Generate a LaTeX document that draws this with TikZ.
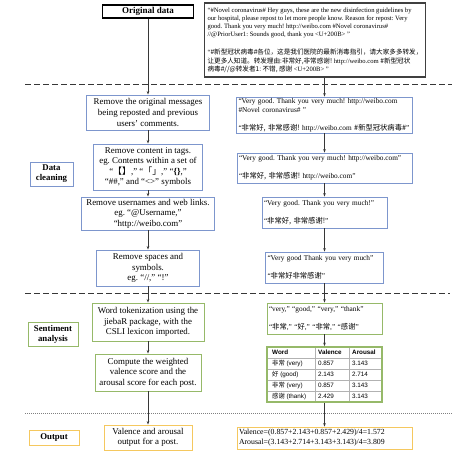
\documentclass[tikz,border=0pt]{standalone}
\usepackage{fontspec}
\setmainfont{Liberation Serif}
\newfontfamily\cjk{Noto Sans CJK SC}
\newfontfamily\tabsans{Liberation Sans}
\newcommand{\zh}[1]{{\cjk #1}}
\usetikzlibrary{arrows.meta}
\definecolor{cleanblue}{RGB}{125,150,205}
\definecolor{sentgreen}{RGB}{150,185,105}
\definecolor{outyellow}{RGB}{245,200,95}
\definecolor{flowgray}{RGB}{55,55,55}
\frenchspacing

\tikzset{
  leftbox/.style={draw, line width=0.9pt, align=center, inner ysep=1pt,
    font=\fontsize{8.9}{10.6}\selectfont},
  rightbox/.style={draw, line width=0.8pt, align=left, inner xsep=2pt, inner ysep=1pt,
    font=\fontsize{7.3}{9}\selectfont},
  stagebox/.style={draw, line width=0.9pt, align=center, inner ysep=1pt,
    font=\bfseries\fontsize{8.8}{10}\selectfont},
  cell/.style={anchor=west, inner sep=0pt, font=\tabsans\fontsize{6.3}{7}\selectfont},
  flow/.style={->, flowgray, line width=0.7pt},
  >={Stealth[length=3.5pt,width=2.6pt]}
}

\begin{document}
\begin{tikzpicture}[x=1pt, y=-1pt]
  \useasboundingbox (0,0) rectangle (474,452);
  % stage separators
  \draw[flowgray, line width=0.8pt, dash pattern=on 5.5pt off 3.5pt] (25,84) -- (452,84);
  \draw[flowgray, line width=0.8pt, dash pattern=on 5.5pt off 3.5pt] (25,293) -- (450,293);
  \draw[gray, line width=0.7pt, dash pattern=on 1pt off 1pt] (25,413) -- (452,413);

  % stage labels
  \node[stagebox, draw=cleanblue, minimum width=43pt, minimum height=24pt] (cleaning) at (51.5,174) {Data\\ cleaning};
  \node[stagebox, draw=sentgreen, minimum width=50pt, minimum height=24pt] (sentiment) at (53,334) {Sentiment\\ analysis};
  \node[stagebox, draw=outyellow, minimum width=50pt, minimum height=15pt] (output) at (54,437.5) {Output};

  % processing steps
  \node[draw, line width=1.4pt, minimum width=91pt, minimum height=13pt, inner sep=1pt,
    font=\bfseries\fontsize{9}{10}\selectfont] (orig) at (148,11.5) {Original data};
  \node[leftbox, draw=cleanblue, minimum width=123pt, minimum height=35pt] (rmrepost) at (148,112.5)
    {Remove the original messages\\ being reposted and previous\\ users' comments.};
  \node[leftbox, draw=cleanblue, minimum width=109pt, minimum height=46pt] (rmtags) at (148,167)
    {Remove content in tags.\\ eg. Contents within a set of\\ “\zh{【】},” “\zh{「」},” “\textbf{\{\}},”\\ “\#\#,” and “<>” symbols};
  \node[leftbox, draw=cleanblue, minimum width=133pt, minimum height=33pt] (rmlinks) at (148,213.5)
    {Remove usernames and web links.\\ eg. “@Username,”\\ “http://weibo.com”};
  \node[leftbox, draw=cleanblue, minimum width=103pt, minimum height=36pt] (rmspaces) at (148,268)
    {Remove spaces and\\ symbols.\\ eg. “//,” “!”};
  \node[leftbox, draw=sentgreen, minimum width=112pt, minimum height=38pt] (tokenize) at (148,322)
    {Word tokenization using the\\ jiebaR package, with the\\ CSLI lexicon imported.};
  \node[leftbox, draw=sentgreen, minimum width=106pt, minimum height=37pt] (weighted) at (148,372.5)
    {Compute the weighted\\ valence score and the\\ arousal score for each post.};
  \node[leftbox, draw=outyellow, minimum width=88pt, minimum height=25pt] (postout) at (148,437.5)
    {Valence and arousal\\ output for a post.};

  % example post
  \node[draw=black!75, line width=1.2pt, minimum width=214pt, minimum height=74pt, align=left,
    inner xsep=3pt, font=\fontsize{6.6}{8.3}\selectfont] (origtext) at (315,40)
    {“\#Novel coronavirus\# Hey guys, these are the new disinfection guidelines by\\
     our hospital, please repost to let more people know. Reason for repost: Very\\
     good. Thank you very much! http://weibo.com \#Novel coronavirus\#\\
     //@PriorUser1: Sounds good, thank you <U+200B> ”\\[9.5pt]
     “\zh{\#新型冠状病毒\#各位，这是我们医院的最新消毒指引，请大家多多转发，}\\
     \zh{让更多人知道。转发理由:非常好,非常感谢!} http://weibo.com \zh{\#新型冠状}\\
     \zh{病毒\#//@转发者1: 不错, 感谢} <U+200B> ”};
  \node[rightbox, draw=cleanblue, text width=172pt, minimum height=36pt] (noprior) at (324.5,115)
    {“Very good. Thank you very much! http://weibo.com\\ \#Novel coronavirus\# ”\\[9pt]
     “\zh{非常好, 非常感谢!} http://weibo.com \zh{\#新型冠状病毒\#}”};
  \node[rightbox, draw=cleanblue, text width=171pt, minimum height=30pt] (notags) at (324.5,168)
    {“Very good. Thank you very much! http://weibo.com”\\[9pt]
     “\zh{非常好, 非常感谢!} http://weibo.com”};
  \node[rightbox, draw=cleanblue, text width=121pt, minimum height=31pt] (nolinks) at (324.5,212.5)
    {“Very good. Thank you very much!”\\[9pt] “\zh{非常好, 非常感谢!}”};
  \node[rightbox, draw=cleanblue, text width=114pt, minimum height=31pt] (nospaces) at (324.5,267.5)
    {“Very good Thank you very much”\\[9pt] “\zh{非常好非常感谢}”};
  \node[rightbox, draw=sentgreen, text width=111pt, minimum height=31pt] (tokens) at (324.5,318.5)
    {“very,” “good,” “very,” “thank”\\[9pt] “\zh{非常},” “\zh{好},” “\zh{非常},” “\zh{感谢}”};

  % lexicon table
  \foreach \ry in {358,369,380,391}
    \draw[gray!60, line width=0.4pt] (267,\ry) -- (382,\ry);
  \foreach \cx in {315,349}
    \draw[gray!60, line width=0.4pt] (\cx,347) -- (\cx,402);
  \node[draw=sentgreen, line width=1.8pt, minimum width=115pt, minimum height=55pt, inner sep=0pt] (lexicon) at (324.5,374.5) {};
  \node[cell, font=\tabsans\bfseries\fontsize{6.3}{7}\selectfont] (hword) at (272,352.5) {Word};
  \node[cell, font=\tabsans\bfseries\fontsize{6.3}{7}\selectfont] (hval) at (318,352.5) {Valence};
  \node[cell, font=\tabsans\bfseries\fontsize{6.3}{7}\selectfont] (haro) at (352,352.5) {Arousal};
  \foreach \w/\v/\a [count=\i] in {\zh{非常} (very)/0.857/3.143, \zh{好} (good)/2.143/2.714,
      \zh{非常} (very)/0.857/3.143, \zh{感谢} (thank)/2.429/3.143} {
    \node[cell] (word\i) at (272,352.5+11*\i) {\w};
    \node[cell] (val\i) at (318,352.5+11*\i) {\v};
    \node[cell] (aro\i) at (352,352.5+11*\i) {\a};
  }

  \node[rightbox, draw=outyellow, text width=171pt, minimum height=22pt,
    font=\fontsize{7.8}{10}\selectfont] (scores) at (324.5,438)
    {Valence=(0.857+2.143+0.857+2.429)/4=1.572\\ Arousal=(3.143+2.714+3.143+3.143)/4=3.809};

  % arrows
  \draw[flow] (orig) -- (rmrepost);
  \draw[flow] (rmrepost) -- (rmtags);
  \draw[flow] (rmtags) -- (rmlinks);
  \draw[flow] (rmlinks) -- (rmspaces);
  \draw[flow] (rmspaces) -- (tokenize);
  \draw[flow] (tokenize) -- (weighted);
  \draw[flow] (weighted) -- (postout);
  \draw[flow] (origtext.south -| noprior.north) -- (noprior);
  \draw[flow] (noprior) -- (notags);
  \draw[flow] (notags) -- (nolinks);
  \draw[flow] (nolinks) -- (nospaces);
  \draw[flow] (nospaces) -- (tokens);
  \draw[flow] (tokens) -- (lexicon);
  \draw[flow] (lexicon) -- (scores);
\end{tikzpicture}
\end{document}
